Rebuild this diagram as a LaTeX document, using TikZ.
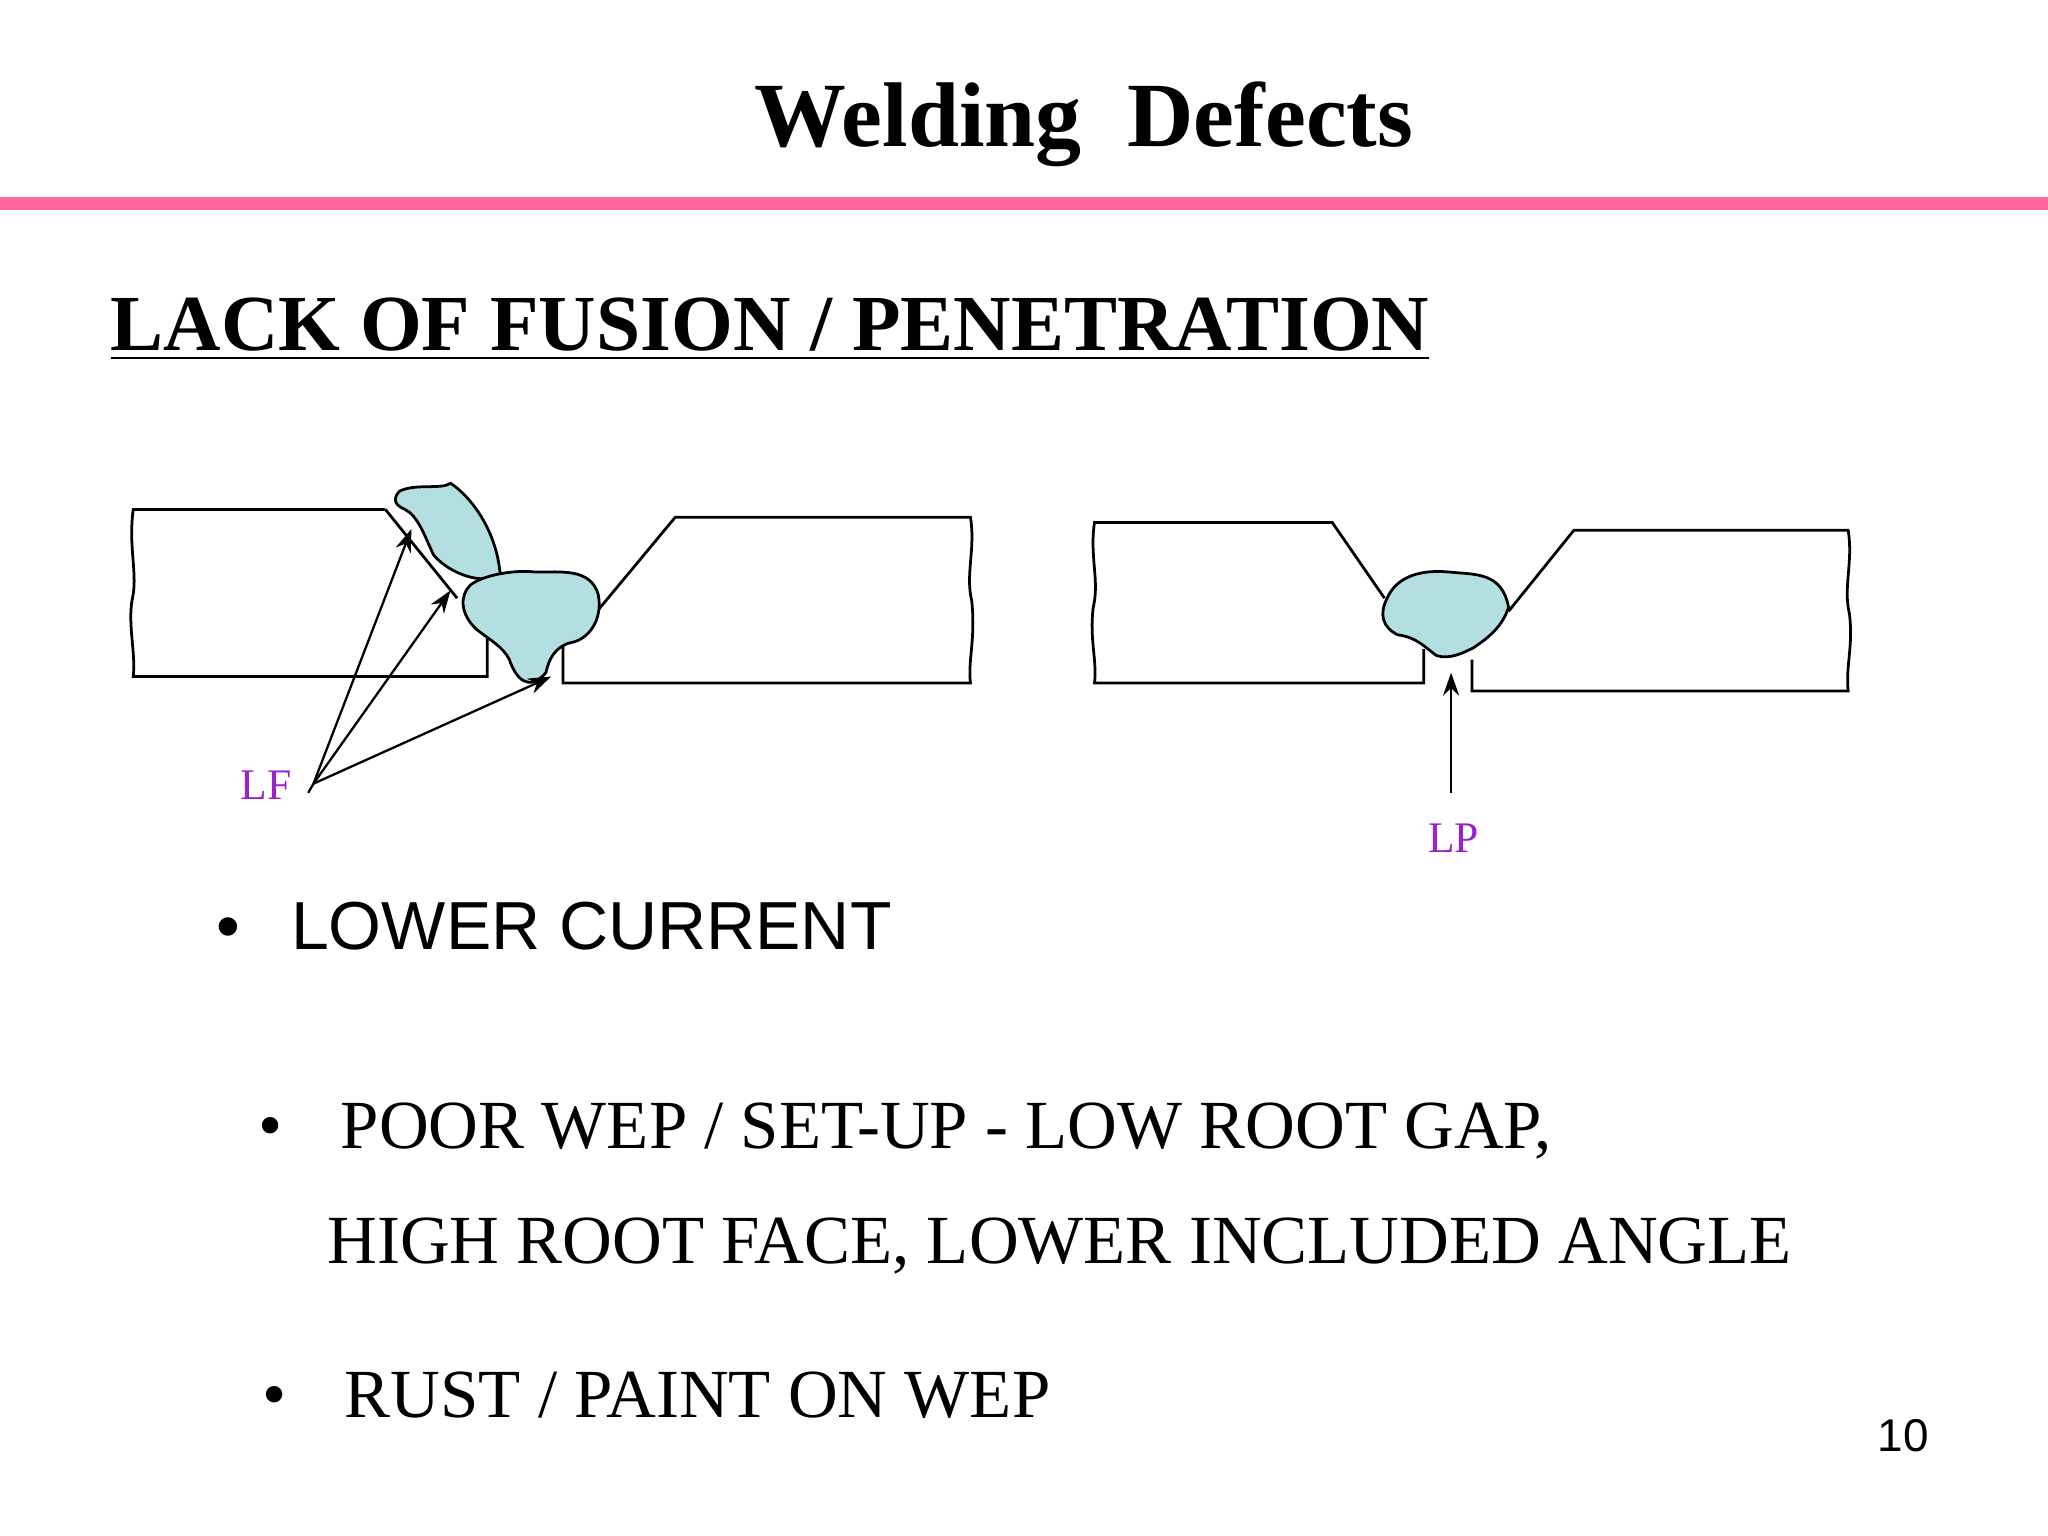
\documentclass[tikz,border=0pt]{standalone}
\usepackage{fontspec}
\setmainfont{Liberation Serif}
\newfontfamily\arialfont{Liberation Sans}
\usetikzlibrary{arrows.meta}
\definecolor{weldpink}{HTML}{FF6699}
\definecolor{weldcyan}{HTML}{B3DFE0}
\definecolor{labelpurple}{HTML}{9922CC}
\begin{document}
\begin{tikzpicture}
     [
     x=0.01cm, y=-0.01cm,
     plate/.style={black, line width=0.6pt},
     bead/.style={draw=black, fill=weldcyan, line width=0.6pt},
     pointer/.style={black, line width=0.5pt, -{Stealth[length=5pt,width=3.5pt]}},
     tag/.style={text=labelpurple, font=\fontsize{9.5}{11}\selectfont},
     every node/.style={inner sep=0pt}
     ]
     \useasboundingbox (0,0) rectangle (1568,1176);
     % header
     \node (title) at (830,95) {\fontsize{20}{24}\selectfont\bfseries Welding\ \ Defects};
     \fill[weldpink] (0,151) rectangle (1568,161);
     \node[anchor=west] (head) at (84,252) {\fontsize{17.3}{21}\selectfont\bfseries\underline{LACK OF FUSION / PENETRATION}};
     % left joint
     \draw[plate] (295,390) -- (102,390) .. controls (98,420) and (106,440) .. (101,460)
          .. controls (98,480) and (104,500) .. (102,518) -- (373,518) -- (373,488);
     \draw[plate] (295,390) -- (350,458);
     \draw[plate] (458,467) -- (517,396) -- (743,396) .. controls (747,420) and (739,440) .. (744,460)
          .. controls (747,490) and (741,505) .. (743,523) -- (431,523) -- (431,495);
     \draw[bead] (306,376) .. controls (318,370) and (338,375) .. (345,370)
          .. controls (360,380) and (380,405) .. (383,440)
          .. controls (370,448) and (345,440) .. (332,425)
          .. controls (325,410) and (320,395) .. (310,390)
          .. controls (300,386) and (302,380) .. (306,376) -- cycle;
     \draw[bead] (360,448) .. controls (370,440) and (395,436) .. (410,438)
          .. controls (430,438) and (452,435) .. (458,455)
          .. controls (462,475) and (450,490) .. (437,492)
          .. controls (425,495) and (420,505) .. (418,515)
          .. controls (405,530) and (395,520) .. (390,505)
          .. controls (385,495) and (375,490) .. (365,482)
          .. controls (352,470) and (352,456) .. (360,448) -- cycle;
     \node[tag] (lf) at (204,601) {LF};
     \coordinate (lfroot) at (240,600);
     \coordinate (lfa) at (315,405);
     \coordinate (lfb) at (345,452);
     \coordinate (lfc) at (422,518);
     \draw[black, line width=0.5pt] (lfroot) -- (236,607);
     \foreach \t in {lfa,lfb,lfc}
          \draw[pointer] (lfroot) -- (\t);
     % right joint
     \draw[plate] (1060,458) -- (1020,400) -- (838,400) .. controls (834,425) and (842,445) .. (837,465)
          .. controls (834,490) and (840,505) .. (838,523) -- (1090,523) -- (1090,497);
     \draw[plate] (1155,468) -- (1205,406) -- (1415,406) .. controls (1419,430) and (1411,450) .. (1416,470)
          .. controls (1419,495) and (1413,510) .. (1415,529) -- (1127,529) -- (1127,505);
     \draw[bead] (1062,458) .. controls (1070,440) and (1090,436) .. (1110,438)
          .. controls (1130,440) and (1150,438) .. (1155,465)
          .. controls (1150,480) and (1140,488) .. (1128,496)
          .. controls (1120,500) and (1110,505) .. (1100,502)
          .. controls (1090,495) and (1085,488) .. (1070,486)
          .. controls (1058,480) and (1056,470) .. (1062,458) -- cycle;
     \node[tag] (lp) at (1113,642) {LP};
     \coordinate (lproot) at (1111,607);
     \coordinate (lptip) at (1111,515);
     \draw[pointer] (lproot) -- (lptip);
     % causes
     \node[anchor=west] (cur) at (165,709) {\arialfont\fontsize{14.8}{18}\selectfont\textbullet\hspace{0.75em}LOWER CURRENT};
     \node[anchor=west] (wep) at (197,866) {\fontsize{15}{18}\selectfont\textbullet\hspace{0.85em}POOR WEP / SET-UP - LOW ROOT GAP,};
     \node[anchor=west] (face) at (250,954) {\fontsize{15}{18}\selectfont HIGH ROOT FACE, LOWER INCLUDED ANGLE};
     \node[anchor=west] (rust) at (200,1068) {\fontsize{15}{18}\selectfont\textbullet\hspace{0.85em}RUST / PAINT ON WEP};
     \node (page) at (1457,1099) {\arialfont\fontsize{10}{12}\selectfont 10};
\end{tikzpicture}
\end{document}
